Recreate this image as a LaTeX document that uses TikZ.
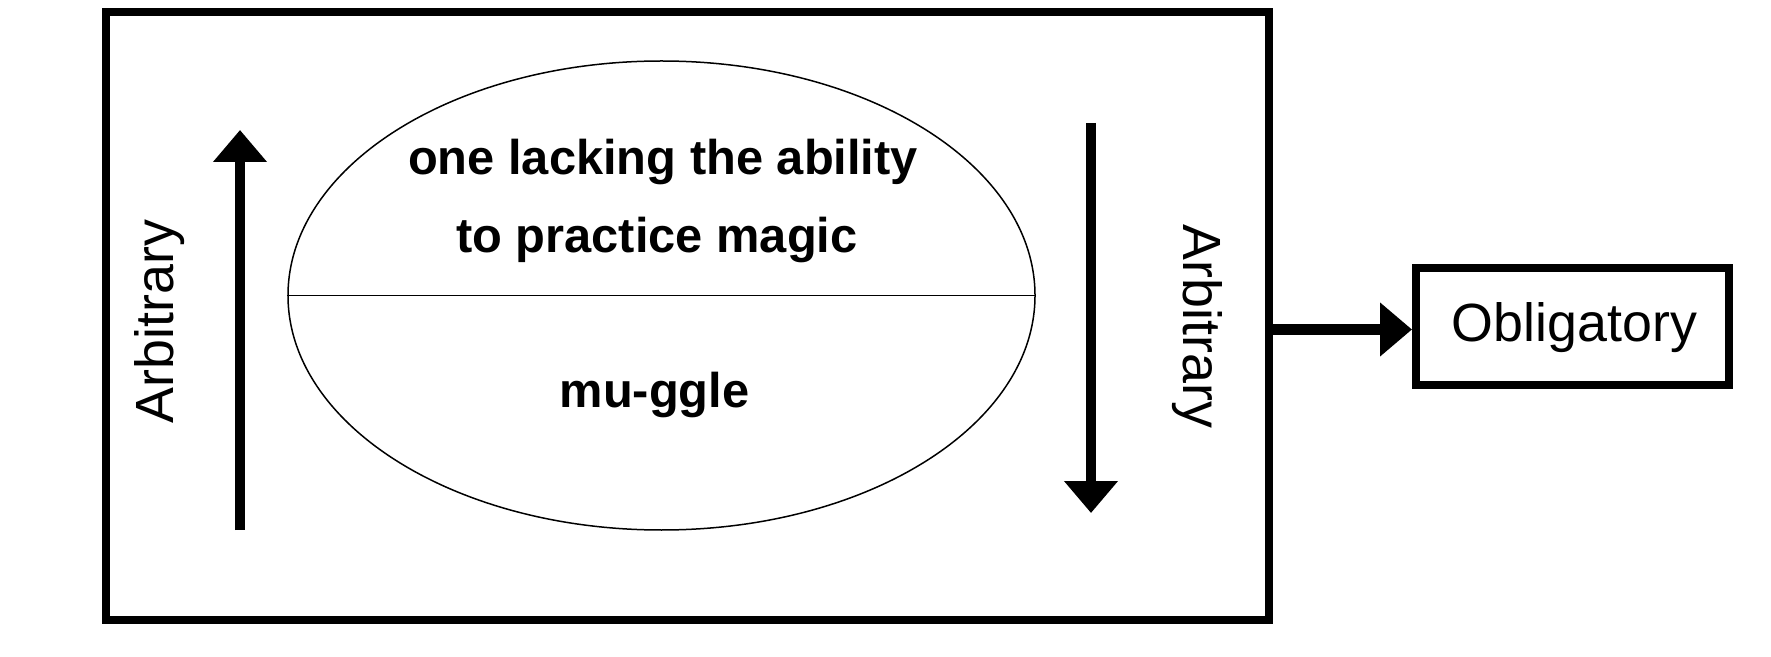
\documentclass[tikz,border=0pt]{standalone}
\usepackage{fontspec}
\setmainfont{Liberation Sans}
\usetikzlibrary{shapes.geometric,arrows.meta}
\begin{document}
\begin{tikzpicture}[x=0.5pt,y=-0.5pt,
  boldtxt/.style={inner sep=0pt,anchor=base,font=\fontsize{24.4pt}{28pt}\selectfont\bfseries},
  regtxt/.style={inner sep=0pt,anchor=base,font=\fontsize{26.9pt}{30pt}\selectfont},
  thickarrow/.style={line width=5pt,-{Triangle[length=16pt,width=26pt]}}]
\useasboundingbox[fill=white] (0,0) rectangle (1771,657);
% outer frame
\node[draw,line width=4pt,minimum width=581.5pt,minimum height=304pt,inner sep=0pt] (frame) at (687.5,316) {};
% ellipse
\node[draw,ellipse,line width=0.75pt,minimum width=373.5pt,minimum height=234.5pt,inner sep=0pt] (ell) at (661.5,295.5) {};
\draw[line width=0.75pt] (ell.west) -- (ell.east);
% texts in ellipse
\node[boldtxt] (t1) at (663,175) {one lacking the ability};
\node[boldtxt] (t2) at (657,253) {to practice magic};
\node[boldtxt] (t3) at (654.5,408) {mu-ggle};
% left arrow and label
\coordinate (la0) at (240,530);
\coordinate (la1) at (240,130);
\draw[thickarrow] (la0) -- (la1);
\node[regtxt,rotate=90] (arbL) at (173,321.5) {Arbitrary};
% right arrow and label
\coordinate (ra0) at (1091,123);
\coordinate (ra1) at (1091,513);
\draw[thickarrow] (ra0) -- (ra1);
\node[regtxt,rotate=-90] (arbR) at (1183,326.5) {Arbitrary};
% obligatory box
\node[draw,line width=4pt,minimum width=156.5pt,minimum height=58.5pt,inner sep=0pt] (oblig) at (1572.5,326.5) {};
\node[regtxt] (obltxt) at (1574.5,342) {Obligatory};
% horizontal connector
\coordinate (hend) at ([yshift=-1.5pt]oblig.west);
\coordinate (hbeg) at (hend -| frame.east);
\draw[thickarrow,line width=5.5pt] (hbeg) -- (hend);
\end{tikzpicture}
\end{document}
